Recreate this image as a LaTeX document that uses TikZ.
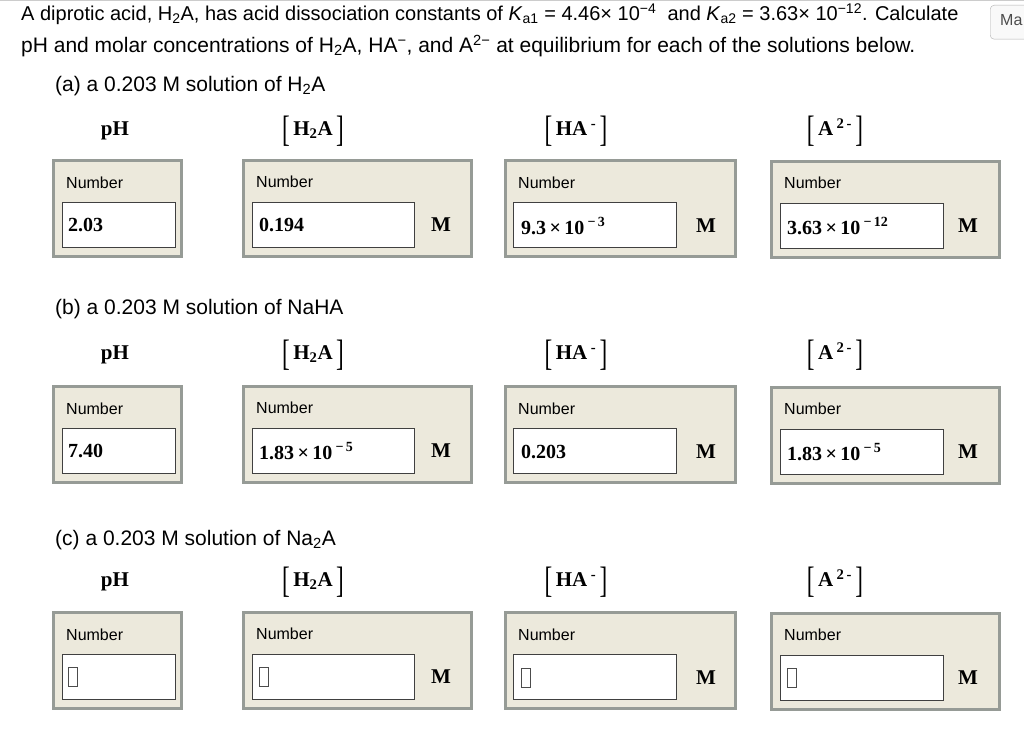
\documentclass[tikz,border=0pt]{standalone}
\usepackage{fontspec}
\setmainfont{Liberation Serif}
\newfontfamily\arial{Liberation Sans}
\definecolor{panel}{RGB}{236,233,220}
\definecolor{frame}{RGB}{150,155,150}
\newcommand{\sci}[2]{#1\,×\,10\,\raisebox{8pt}{\fontsize{14}{14}\selectfont −\,#2}}
\newcommand{\ph}{\tikz\draw[black!70,line width=0.7pt](0,0)rectangle(9pt,19pt);}
\newcommand{\lbr}{\raisebox{-5.5pt}{\mdseries\scalebox{1.1}[1.75]{[}}\,}
\newcommand{\rbr}{\,\raisebox{-5.5pt}{\mdseries\scalebox{1.1}[1.75]{]}}}
\begin{document}
\begin{tikzpicture}[x=1pt,y=-1pt,
  outerbox/.style={draw=frame,line width=2.5pt,fill=panel,anchor=north west,inner sep=0},
  innerbox/.style={draw=black!75,line width=0.8pt,fill=white,anchor=north west,inner sep=0},
  numlbl/.style={font=\arial\fontsize{16}{16}\selectfont,anchor=west,inner sep=0},
  val/.style={font=\bfseries\fontsize{20}{20}\selectfont,anchor=west,inner sep=0},
  unit/.style={font=\bfseries\fontsize{21}{21}\selectfont,inner sep=0},
  head/.style={font=\bfseries\fontsize{21}{21}\selectfont,inner sep=0},
  txt/.style={font=\arial\fontsize{21}{21}\selectfont,anchor=west,inner sep=0}]
\useasboundingbox (0,0) rectangle (1024,733);
\fill[white] (0,0) rectangle (1024,733);
\draw[gray!40,line width=1pt] (0,1) -- (1024,1);
\node[draw=gray!60,fill=gray!5,rounded corners=4pt,minimum width=40pt,minimum height=34pt,anchor=north west] (btn) at (990,5) {};
\node[font=\arial\fontsize{16}{16}\selectfont,anchor=west,inner sep=0,text=gray!60!black] (btnt) at (1000,20) {Ma};
\node[txt,font=\arial\fontsize{20}{20}\selectfont] (l1) at (21,14) {A diprotic acid, H\textsubscript{2}A, has acid dissociation constants of \textit{K}\textsubscript{a1} = 4.46× 10\textsuperscript{−4}\ \ and \textit{K}\textsubscript{a2} = 3.63× 10\textsuperscript{−12}. Calculate};
\node[txt] (l2) at (21,46) {pH and molar concentrations of H\textsubscript{2}A, HA\textsuperscript{−}, and A\textsuperscript{2−} at equilibrium for each of the solutions below.};
\node[txt] (ta) at (55,86) {(a) a 0.203 M solution of H\textsubscript{2}A};
\node[txt] (tb) at (55,309) {(b) a 0.203 M solution of NaHA};
\node[txt] (tc) at (55,540) {(c) a 0.203 M solution of Na\textsubscript{2}A};
\foreach \r/\y in {a/131,b/355,c/582}{
  \node[head] (ph\r) at (115,\y) {pH};
  \node[head] (h2a\r) at (313,\y) {\lbr H\textsubscript{2}A\rbr};
  \node[head] (ha\r) at (576,\y) {\lbr HA\,\textsuperscript{-}\rbr};
  \node[head] (a\r) at (835,\y) {\lbr A\,\textsuperscript{2\,-}\rbr};
}
\foreach \r/\t/\vph/\vh/\vha/\va in {
  a/159/2.03/0.194/{\sci{9.3}{3}}/{\sci{3.63}{12}},
  b/385/7.40/{\sci{1.83}{5}}/0.203/{\sci{1.83}{5}},
  c/611/\ph/\ph/\ph/\ph}{
  \node[outerbox,minimum width=128pt,minimum height=96pt] (pho\r) at (52,\t) {};
  \node[innerbox,minimum width=113pt,minimum height=45pt] (phi\r) at (62,\t+43) {};
  \node[numlbl] (phn\r) at (66,\t+24) {Number};
  \node[val] (phv\r) at (68,\t+66) {\vph};
  \node[outerbox,minimum width=228pt,minimum height=96pt] (h2o\r) at (242,\t) {};
  \node[innerbox,minimum width=162pt,minimum height=45pt] (h2i\r) at (252,\t+43) {};
  \node[numlbl] (h2n\r) at (256,\t+23) {Number};
  \node[val] (h2v\r) at (259,\t+66) {\vh};
  \node[unit] (h2u\r) at (441,\t+66) {M};
  \node[outerbox,minimum width=230pt,minimum height=96pt] (hao\r) at (504,\t) {};
  \node[innerbox,minimum width=163pt,minimum height=45pt] (hai\r) at (513,\t+43) {};
  \node[numlbl] (han\r) at (518,\t+24) {Number};
  \node[val] (hav\r) at (521,\t+67) {\vha};
  \node[unit] (hau\r) at (706,\t+67) {M};
  \node[outerbox,minimum width=228pt,minimum height=96pt] (ao\r) at (770,\t+1) {};
  \node[innerbox,minimum width=163pt,minimum height=45pt] (ai\r) at (780,\t+44) {};
  \node[numlbl] (an\r) at (784,\t+24) {Number};
  \node[val] (av\r) at (787,\t+67) {\va};
  \node[unit] (au\r) at (968,\t+67) {M};
}
\end{tikzpicture}
\end{document}
